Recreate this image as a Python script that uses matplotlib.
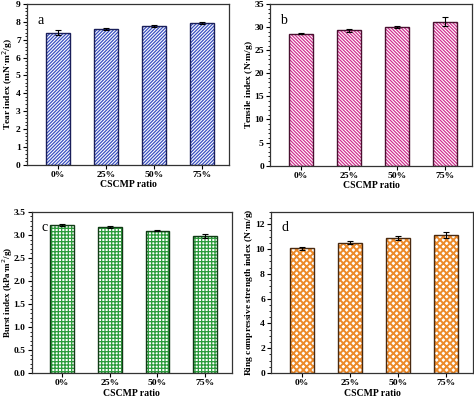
import numpy as np
import matplotlib
matplotlib.use('Agg')
import matplotlib.pyplot as plt

plt.rcParams['font.family'] = ['Liberation Serif', 'DejaVu Serif']

ratios = ['0%', '25%', '50%', '75%']

tear = [7.40, 7.59, 7.78, 7.94]
tear_err = [0.15, 0.05, 0.04, 0.06]
tensile = [28.6, 29.3, 30.0, 31.2]
tensile_err = [0.15, 0.3, 0.3, 0.9]
burst = [3.22, 3.18, 3.09, 2.98]
burst_err = [0.02, 0.02, 0.01, 0.05]
ring = [10.05, 10.52, 10.88, 11.12]
ring_err = [0.1, 0.1, 0.18, 0.25]

panels = [
    # rect, values, errs, ylabel, ylim, yticks, hatch, hatch lw, hatch colour, edge, tag, fmt, label x
    ([0.057, 0.587, 0.426, 0.403], tear, tear_err, r'Tear index (mN$\cdot$m$^2$/g)',
     (0, 9), np.arange(0, 10, 1), '/' * 10, 0.9, '#3a4fc0', '#1a1f5a', 'a', '%d', -0.06),
    ([0.570, 0.585, 0.426, 0.405], tensile, tensile_err, r'Tensile index (N$\cdot$m/g)',
     (0, 35), np.arange(0, 36, 5), '\\' * 10, 0.9, '#d0308f', '#4a1030', 'b', '%d', -0.075),
    ([0.067, 0.065, 0.422, 0.404], burst, burst_err, r'Burst index (kPa$\cdot$m$^2$/g)',
     (0, 3.5), np.arange(0, 3.6, 0.5), '+' * 5, 0.9, '#2a9a3a', '#103a15', 'c', '%.1f', -0.085),
    ([0.572, 0.065, 0.426, 0.404], ring, ring_err, r'Ring compressive strength index (N$\cdot$m/g)',
     (0, 13), np.arange(0, 13, 2), 'x' * 5, 1.4, '#ec8a2a', '#4a2a10', 'd', '%d', -0.08),
]

fig = plt.figure(figsize=(4.74, 3.99), dpi=100)

for rect, vals, errs, ylab, ylim, yt, hatch, hlw, hc, ec, tag, fmt, lx in panels:
    ax = fig.add_axes(rect)
    x = np.arange(len(ratios))
    plt.rcParams['hatch.linewidth'] = hlw
    ax.bar(x, vals, 0.5, color='white', hatch=hatch, edgecolor=hc, linewidth=0)
    ax.bar(x, vals, 0.5, fill=False, edgecolor=ec, linewidth=1.0)
    ax.errorbar(x, vals, yerr=errs, fmt='none', ecolor='black', elinewidth=0.8,
                capsize=2, capthick=0.8)
    ax.set_xlim(-0.64, 3.56)
    ax.set_ylim(*ylim)
    ax.set_yticks(yt)
    ax.set_yticklabels([fmt % v for v in yt])
    ax.set_xticks(x)
    ax.set_xticklabels(ratios)
    ax.minorticks_on()
    ax.tick_params(axis='x', which='minor', bottom=False)
    ax.tick_params(axis='both', which='major', direction='out', length=3, width=0.8,
                   labelsize=6.8, pad=1.5)
    ax.tick_params(axis='y', which='minor', direction='out', length=1.5, width=0.6)
    for lab in ax.get_xticklabels() + ax.get_yticklabels():
        lab.set_fontweight('bold')
    for s in ax.spines.values():
        s.set_linewidth(0.9)
        s.set_color('#333333')
    ax.set_xlabel('CSCMP ratio', fontsize=7, fontweight='bold', labelpad=1)
    ax.set_ylabel(ylab, fontsize=6.5 if tag == 'c' else 6.8, fontweight='bold')
    ax.yaxis.set_label_coords(lx, 0.5)
    ax.text(0.05, 0.9, tag, transform=ax.transAxes, fontsize=10, va='center', ha='left')

fig.savefig('out.png', dpi=100)
